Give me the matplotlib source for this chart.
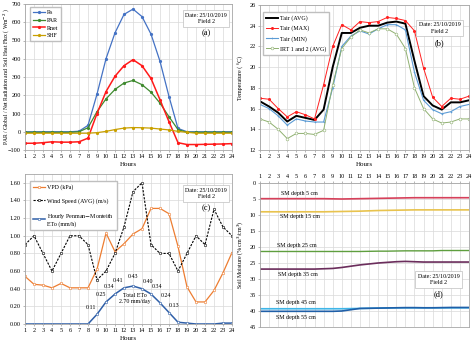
import numpy as np
import matplotlib.pyplot as plt

plt.rcParams['font.family'] = ['Liberation Serif', 'DejaVu Serif']
plt.rcParams['font.size'] = 4.5

hours = np.arange(1, 25)

# (a) radiation / heat flux (W m-2)
rs = [0, 0, 0, 0, 0, 0, 3, 35, 206, 400, 542, 643, 672, 631, 535, 386, 193, 18, 0, 0, 0, 0, 0, 0]
par = [-3, -3, -3, -3, -3, -3, 0, 22, 110, 180, 232, 267, 281, 258, 217, 157, 82, 12, -3, -3, -3, -3, -3, -3]
rnet = [-63, -63, -60, -55, -57, -57, -55, -35, 100, 220, 304, 362, 395, 362, 292, 175, 55, -60, -70, -70, -69, -68, -67, -65]
shf = [-8, -8, -8, -8, -8, -8, -8, -8, -5, 2, 12, 20, 23, 22, 20, 15, 10, 2, -3, -8, -8, -8, -8, -8]

# (b) temperatures (deg C)
tavg = [16.7, 16.2, 15.6, 14.75, 15.3, 15.1, 14.9, 15.9, 20.0, 23.3, 23.3, 23.8, 24.0, 24.0, 24.3, 24.4, 24.2, 20.6, 17.2, 16.3, 15.9, 16.6, 16.6, 16.8]
tmax = [17.0, 16.9, 16.0, 15.2, 15.7, 15.4, 15.0, 18.3, 22.0, 24.1, 23.6, 24.4, 24.3, 24.4, 24.8, 24.7, 24.5, 23.5, 19.9, 17.1, 16.2, 17.0, 16.9, 17.2]
tmin = [16.4, 16.0, 15.3, 14.4, 15.0, 14.8, 14.7, 14.7, 18.0, 22.0, 23.0, 23.5, 23.2, 23.7, 24.1, 24.1, 23.6, 19.5, 16.8, 15.9, 15.5, 15.7, 16.2, 16.4]
irt = [15.0, 14.7, 14.0, 13.1, 13.6, 13.6, 13.5, 13.9, 18.3, 21.8, 22.9, 23.6, 23.3, 23.7, 23.7, 23.2, 21.8, 18.0, 16.0, 15.0, 14.6, 14.7, 15.0, 15.0]

# (c) VPD, wind, ETo
vpd = [0.54, 0.45, 0.44, 0.41, 0.46, 0.41, 0.41, 0.41, 0.62, 1.03, 0.82, 0.91, 1.02, 1.08, 1.31, 1.31, 1.25, 0.88, 0.42, 0.25, 0.25, 0.38, 0.58, 0.81]
wind = [0.90, 1.00, 0.80, 0.60, 0.80, 1.00, 1.00, 0.90, 0.50, 0.60, 0.80, 1.10, 1.50, 1.60, 0.90, 0.80, 0.80, 0.60, 0.80, 1.00, 0.90, 1.30, 1.10, 1.00]
eto = [0, 0, 0, 0, 0, 0, 0, 0, 0.11, 0.25, 0.34, 0.41, 0.43, 0.40, 0.34, 0.24, 0.13, 0.02, 0.01, 0, 0, 0, 0.01, 0.01]

# (d) soil moisture (% cm3/cm3)
sm5 = [4.9]*8 + [4.95, 5.0, 4.95, 4.9, 4.85, 4.8, 4.75, 4.7, 4.65] + [4.6]*7
sm15 = [9.0]*8 + [8.95, 8.9, 8.85, 8.8, 8.7, 8.6, 8.55, 8.5, 8.45] + [8.4]*7
sm25 = [21.4]*12 + [21.35, 21.3, 21.3, 21.25, 21.2, 21.2, 21.2, 21.2, 21.1, 21.1, 21.1, 21.1]
sm35 = [26.9]*7 + [26.8, 26.7, 26.4, 26.0, 25.6, 25.3, 25.0, 24.8, 24.6, 24.5, 24.6] + [24.7]*6
sm45 = [39.3]*9 + [39.3, 39.25, 39.2, 39.15, 39.1, 39.05, 39.0, 39.0, 39.0, 39.0, 39.0, 39.0, 39.0, 39.0, 39.0]
sm55 = [40.1]*9 + [40.0, 39.6, 39.2, 39.15, 39.1, 39.05, 39.0, 38.95, 38.95, 39.0, 39.0, 38.95, 38.9, 38.9, 38.9]

W, H = 474, 344
fig = plt.figure(figsize=(W / 100, H / 100), dpi=100)


def box(x0, y0, x1, y1):
    return fig.add_axes([x0 / W, 1 - y1 / H, (x1 - x0) / W, (y1 - y0) / H])


def style(ax):
    ax.set_xlim(1, 24)
    ax.set_xticks(hours)
    ax.grid(True, color='#d9d9d9', lw=0.5)
    ax.set_axisbelow(True)
    for s in ax.spines.values():
        s.set_color('#a6a6a6')
        s.set_linewidth(0.6)
    ax.tick_params(length=1.5, width=0.4, color='#808080', pad=1.5, labelsize=4.5)


def datebox(ax, x, y, tag):
    ax.text(x, y, 'Date: 25/10/2019\nField 2', ha='center', va='center', fontsize=4.3,
            transform=ax.transAxes, linespacing=1.4,
            bbox=dict(boxstyle='square,pad=0.4', fc='white', ec='#bfbfbf', lw=0.5))
    ax.text(x, y - 0.1, tag, ha='center', va='center', fontsize=6, transform=ax.transAxes)


legkw = dict(fontsize=4.3, frameon=True, fancybox=False, edgecolor='#bfbfbf',
             framealpha=1, handlelength=2.0, borderpad=0.5, handletextpad=0.3)

# panel (a)
ax = box(25, 4, 232, 150)
style(ax)
ax.plot(hours, rs, color='#4472c4', lw=0.9, marker='o', ms=1.3, label='Rs')
ax.plot(hours, par, color='#3f8a2f', lw=0.9, marker='o', ms=1.3, label='PAR')
ax.plot(hours, rnet, color='#ff1a1a', lw=1.1, marker='o', ms=1.3, label='Rnet')
ax.plot(hours, shf, color='#c9a000', lw=0.9, marker='o', ms=1.3, label='SHF')
ax.set_ylim(-100, 700)
ax.set_yticks(range(-100, 701, 100))
ax.set_xlabel('Hours', fontsize=5, labelpad=2)
ax.set_ylabel('PAR / Global / Net Radiation and  Soil Heat Flux ( Wm$^{-2}$ )', fontsize=4.1)
ax.yaxis.set_label_coords(-0.068, 0.5)
ax.legend(loc='upper left', bbox_to_anchor=(0.02, 0.99), labelspacing=0.45, borderaxespad=0.2,
          **legkw)
datebox(ax, 0.875, 0.9, '(a)')

# panel (b)
ax = box(260, 5, 469, 150)
style(ax)
ax.plot(hours, tavg, color='black', lw=1.4, label='Tair (AVG)')
ax.plot(hours, tmax, color='#ff2020', lw=0.7, marker='o', ms=1.2, label='Tair (MAX)')
ax.plot(hours, tmin, color='#5b9bd5', lw=0.8, marker='+', ms=1.8, mew=0.4, label='Tair (MIN)')
ax.plot(hours, irt, color='#8fb070', lw=0.7, marker='o', ms=2, mfc='white', mew=0.4, label='IRT 1 and 2 (AVG)')
ax.set_ylim(12, 26)
ax.set_yticks(range(12, 27, 2))
ax.set_xlabel('Hours', fontsize=5, labelpad=2)
ax.set_ylabel('Temperature ( °C)', fontsize=4.3)
ax.yaxis.set_label_coords(-0.075, 0.5)
ax.legend(loc='upper left', bbox_to_anchor=(0.0, 0.97), labelspacing=0.75, **legkw)
datebox(ax, 0.86, 0.84, '(b)')

# panel (c)
ax = box(25, 174, 232, 324)
style(ax)
ax.plot(hours, vpd, color='#ed7d31', lw=0.9, marker='o', ms=1.8, mfc='white', mew=0.4, label='VPD (kPa)')
ax.plot(hours, wind, color='black', lw=0.8, ls='--', dashes=(2, 1.2), marker='o', ms=1.8, mfc='white', mew=0.4,
        label='Wind Speed (AVG) (m/s)')
ax.plot(hours, eto, color='#2f5fa8', lw=1.1, marker='o', ms=1.8, mfc='white', mew=0.4,
        label='Hourly Penman$-$Monteith\nETo (mm/h)')
ax.set_ylim(0, 1.7)
ax.set_yticks(np.arange(0, 1.61, 0.2))
ax.set_yticklabels([f'{v:.2f}' for v in np.arange(0, 1.61, 0.2)])
ax.set_xlabel('Hours', fontsize=5, labelpad=2)
for h, v in zip(hours, eto):
    if 9 <= h <= 17:
        if h < 13:
            ax.annotate(f'{v:.2f}', (h, v), xytext=(-4, 4), textcoords='offset points', ha='center', fontsize=4.3)
        elif h == 13:
            ax.annotate(f'{v:.2f}', (h, v), xytext=(0, 6), textcoords='offset points', ha='center', fontsize=4.3)
        else:
            ax.annotate(f'{v:.2f}', (h, v), xytext=(4, 4), textcoords='offset points', ha='center', fontsize=4.3)
ax.text(13.2, 0.29, 'Total ETo\n2.70 mm/day', ha='center', va='center', fontsize=4.3, linespacing=1.4)
ax.legend(loc='upper left', bbox_to_anchor=(0.01, 0.97), labelspacing=1.3, **legkw)
datebox(ax, 0.875, 0.87, '(c)')

# panel (d)
ax = box(260, 183, 469, 327)
style(ax)
ax.xaxis.tick_top()
ax.plot(hours, sm5, color='#d6405a', lw=1.2)
ax.plot(hours, sm15, color='#e8c34e', lw=1.2)
ax.plot(hours, sm25, color='#5e9e3e', lw=1.0)
ax.plot(hours, sm35, color='#6b2d5c', lw=1.2)
ax.plot(hours, sm45, color='#3fb6e8', lw=1.2)
ax.plot(hours, sm55, color='#1f5fa8', lw=1.2)
ax.set_ylim(45, 0)
ax.set_yticks(range(0, 46, 5))
ax.set_ylabel('Soil Moisture (% cm$^3$/cm$^3$)', fontsize=4.3)
ax.yaxis.set_label_coords(-0.07, 0.5)
for lab, x, y in [('SM depth 5 cm', 5.3, 3.3), ('SM depth 15 cm', 5.4, 10.6), ('SM depth 25 cm', 5.1, 19.5),
                  ('SM depth 35 cm', 5.2, 28.6), ('SM depth 45 cm', 4.9, 37.4), ('SM depth 55 cm', 5.0, 41.9)]:
    ax.text(x, y, lab, ha='center', va='center', fontsize=4.3)
datebox(ax, 0.855, 0.33, '(d)')

fig.savefig('out.png', dpi=100)
